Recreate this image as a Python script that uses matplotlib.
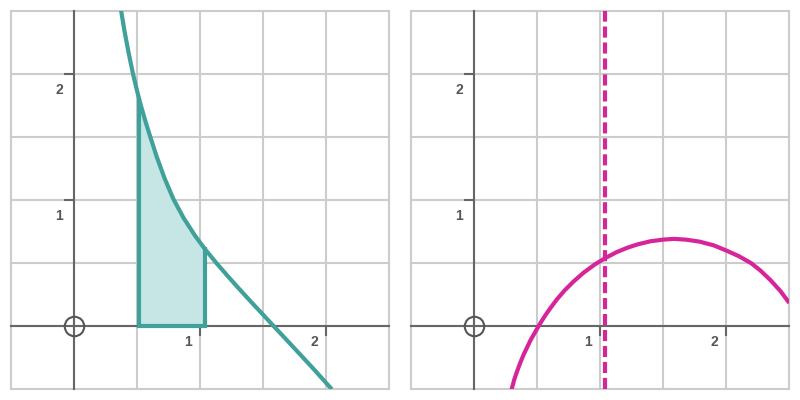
import numpy as np
import matplotlib
matplotlib.use("Agg")
import matplotlib.pyplot as plt

plt.rcParams["lines.scale_dashes"] = False

# left panel: curve f(x)
f_x = [0.375, 0.40, 0.434, 0.469, 0.50, 0.52, 0.534, 0.57, 0.605, 0.658,
       0.72, 0.789, 0.87, 0.96, 1.04, 1.132, 1.22, 1.30, 1.40, 1.50,
       1.575, 1.68, 1.789, 1.90, 2.045]
f_y = [2.5, 2.348, 2.168, 2.0, 1.87, 1.792, 1.74, 1.616, 1.504, 1.34,
       1.17, 1.008, 0.858, 0.718, 0.61, 0.498, 0.397, 0.307, 0.198, 0.091,
       0.01, -0.102, -0.219, -0.339, -0.5]
shade_start = 0.52
shade_end = 1.04

# right panel: area function A(x)
a_x = [0.30, 0.32, 0.342, 0.368, 0.395, 0.45, 0.513, 0.534, 0.57, 0.605,
       0.658, 0.72, 0.789, 0.87, 0.96, 1.042, 1.132, 1.22, 1.30, 1.40,
       1.50, 1.585, 1.68, 1.789, 1.90, 2.0, 2.1, 2.197, 2.27, 2.35,
       2.43, 2.5]
a_y = [-0.5, -0.425, -0.36, -0.29, -0.225, -0.11, 0.0, 0.035, 0.091, 0.141,
       0.212, 0.284, 0.353, 0.424, 0.49, 0.54, 0.587, 0.623, 0.649, 0.673,
       0.686, 0.692, 0.686, 0.67, 0.641, 0.6, 0.555, 0.5, 0.442, 0.366,
       0.278, 0.184]
marker_x = 1.042

ticks = [1, 2]
grid_steps = np.arange(-0.5, 2.51, 0.5)

TEAL = "#40a09a"
TEAL_FILL = "#c5e6e5"
MAGENTA = "#d6259b"
AXIS = "#666666"
GRID = "#cccccc"
LABEL = "#555555"


def setup_axes(ax):
    ax.set_xlim(-0.5, 2.5)
    ax.set_ylim(-0.5, 2.5)
    for v in grid_steps:
        ax.axvline(v, color=GRID, lw=1.5, zorder=0, clip_on=False)
        ax.axhline(v, color=GRID, lw=1.5, zorder=0, clip_on=False)
    for side in ["top", "right"]:
        ax.spines[side].set_visible(False)
    for side in ["left", "bottom"]:
        ax.spines[side].set_position(("data", 0))
        ax.spines[side].set_color(AXIS)
        ax.spines[side].set_linewidth(1.5)
    ax.set_xticks(ticks)
    ax.set_yticks(ticks)
    ax.set_xticklabels([])
    ax.set_yticklabels([])
    ax.tick_params(direction="out", length=7, width=1.5, color=AXIS)
    for t in ticks:
        ax.annotate(str(t), (t, 0), xytext=(-8.6, -11.5), textcoords="offset points",
                    ha="center", va="center", fontsize=10, fontweight="bold",
                    color=LABEL, family="Liberation Sans")
        ax.annotate(str(t), (0, t), xytext=(-10.3, -11.5), textcoords="offset points",
                    ha="center", va="center", fontsize=10, fontweight="bold",
                    color=LABEL, family="Liberation Sans")
    ax.plot(0, 0, marker="o", ms=14, mfc="none", mec="#555555", mew=1.5, zorder=4)


fig = plt.figure(figsize=(8, 4), dpi=100)
ax1 = fig.add_axes([10.7 / 800, 10.7 / 400, 378.6 / 800, 378.6 / 400])
ax2 = fig.add_axes([410.7 / 800, 10.7 / 400, 378.6 / 800, 378.6 / 400])

setup_axes(ax1)
fx = np.array(f_x)
fy = np.array(f_y)
mask = (fx >= shade_start) & (fx <= shade_end)
ax1.fill_between(fx[mask], 0, fy[mask], color=TEAL_FILL, lw=0, zorder=1)
ax1.plot([shade_start, shade_start, shade_end, shade_end],
         [fy[fx == shade_start][0], 0, 0, fy[fx == shade_end][0]],
         color=TEAL, lw=3.0, solid_joinstyle="miter", zorder=3)
ax1.plot(fx, fy, color=TEAL, lw=3.0, solid_capstyle="butt",
         solid_joinstyle="round", zorder=3)

setup_axes(ax2)
ax2.axvline(marker_x, color=MAGENTA, lw=3.0, dashes=(8, 3.5), zorder=3)
ax2.plot(a_x, a_y, color=MAGENTA, lw=3.0, solid_capstyle="butt",
         solid_joinstyle="round", zorder=3)

fig.savefig("out.png", dpi=100)
